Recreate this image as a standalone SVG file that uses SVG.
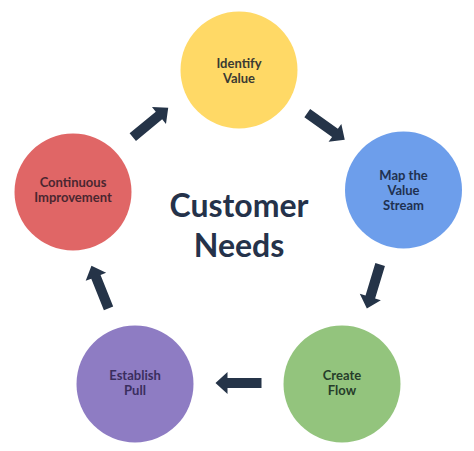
<svg xmlns="http://www.w3.org/2000/svg" width="474" height="451" viewBox="0 0 474 451">
<style>
.lbl{font-family:Lato,"Liberation Sans",sans-serif;font-weight:700;font-size:13px;text-anchor:middle}
.title{font-family:Lato,"Liberation Sans",sans-serif;font-weight:700;font-size:32px;text-anchor:middle;fill:#25324a}
.arr{fill:#253448}
</style>
<defs>
<path id="arrow" d="M-23,-5 L11,-5 L11,-11 L23,0 L11,11 L11,5 L-23,5 Z"/>
</defs>
<rect width="474" height="451" fill="#ffffff"/>
<g id="connectors" class="arr">
<use href="#arrow" transform="translate(326,126.5) rotate(35.4)"/>
<use href="#arrow" transform="translate(373.5,286.5) rotate(106.8)"/>
<use href="#arrow" transform="translate(238.5,383) rotate(180)"/>
<use href="#arrow" transform="translate(100,287) rotate(-111.8)"/>
<use href="#arrow" transform="translate(150.5,122.5) rotate(-39.6)"/>
</g>
<g id="identify">
<circle cx="239" cy="70" r="58.5" fill="#FFD966"/>
<text class="lbl" fill="#3b3a33" x="239" y="68">Identify</text>
<text class="lbl" fill="#3b3a33" x="239" y="83">Value</text>
</g>
<g id="map">
<circle cx="403.5" cy="190" r="58.5" fill="#6D9EEB"/>
<text class="lbl" fill="#1f3150" x="403.5" y="180">Map the</text>
<text class="lbl" fill="#1f3150" x="403.5" y="195">Value</text>
<text class="lbl" fill="#1f3150" x="403.5" y="210">Stream</text>
</g>
<g id="flow">
<circle cx="342" cy="384" r="58.5" fill="#93C47D"/>
<text class="lbl" fill="#263d2a" x="342" y="380">Create</text>
<text class="lbl" fill="#263d2a" x="342" y="395">Flow</text>
</g>
<g id="pull">
<circle cx="135" cy="384" r="58.5" fill="#8E7CC3"/>
<text class="lbl" fill="#3a2e5e" x="135" y="380">Establish</text>
<text class="lbl" fill="#3a2e5e" x="135" y="395">Pull</text>
</g>
<g id="improve">
<circle cx="73" cy="192" r="58.5" fill="#E06666"/>
<text class="lbl" fill="#4a2630" x="73" y="187">Continuous</text>
<text class="lbl" fill="#4a2630" x="73" y="202">Improvement</text>
</g>
<g id="center">
<text class="title" x="239" y="217">Customer</text>
<text class="title" x="239" y="257">Needs</text>
</g>
</svg>
